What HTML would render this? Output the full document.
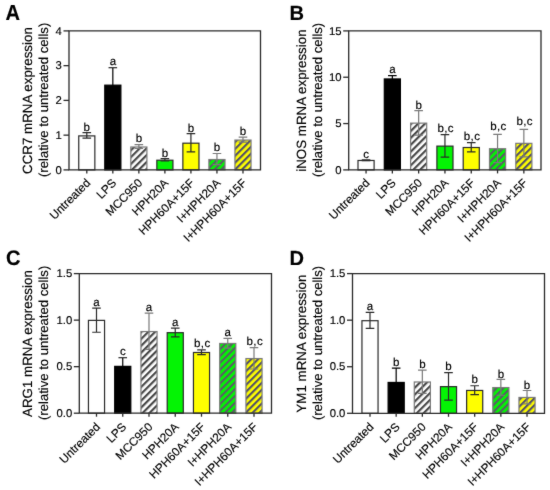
<!DOCTYPE html><html><head><meta charset="utf-8"><style>html,body{margin:0;padding:0;background:#fff;}svg{display:block;}</style></head><body>
<svg width="550" height="490" viewBox="0 0 550 490" font-family="'Liberation Sans', Arial, sans-serif">
<style>text{stroke:#000;stroke-width:0.15;text-rendering:geometricPrecision;}</style>
<defs>
<filter id="soft" x="0" y="0" width="1" height="1" color-interpolation-filters="sRGB"><feConvolveMatrix order="3" kernelMatrix="0.02 0.08 0.02 0.08 1 0.08 0.02 0.08 0.02" edgeMode="duplicate"/></filter>
<pattern id="hw" patternUnits="userSpaceOnUse" width="20" height="4.85" patternTransform="rotate(-45) translate(0 -1.06)"><rect width="20" height="4.85" fill="#ffffff"/><rect y="0" width="20" height="2.2" fill="#474747"/></pattern>
<pattern id="hg" patternUnits="userSpaceOnUse" width="20" height="4.85" patternTransform="rotate(-45) translate(0 -1.06)"><rect width="20" height="4.85" fill="#04f404"/><rect y="0" width="20" height="2.05" fill="#5c5868"/></pattern>
<pattern id="hy" patternUnits="userSpaceOnUse" width="20" height="4.85" patternTransform="rotate(-45) translate(0 -1.06)"><rect width="20" height="4.85" fill="#ffff00"/><rect y="0" width="20" height="2.15" fill="#525068"/></pattern>
</defs>
<g filter="url(#soft)">
<rect width="550" height="490" fill="#fff"/>
<text transform="translate(5.6 19.6) scale(0.98 1.06)" font-size="20.5" font-weight="bold" fill="#000">A</text>
<rect x="78.75" y="135.89" width="16.1" height="34.01" fill="#ffffff" stroke="#2a2a2a" stroke-width="1.2"/>
<path d="M86.8 132.66V138.22M82.5 132.66H91.1M82.5 138.22H91.1" stroke="#2a2a2a" stroke-width="1.2" fill="none"/>
<text x="86.8" y="130.76" font-size="11.5" text-anchor="middle" fill="#000">b</text>
<rect x="104.78" y="85.16" width="16.1" height="84.74" fill="#000000" stroke="#000000" stroke-width="1.2"/>
<path d="M112.83 67.75V101.67M108.53 67.75H117.13M108.53 101.67H117.13" stroke="#000000" stroke-width="1.2" fill="none"/>
<text x="112.83" y="64.95" font-size="11.5" text-anchor="middle" fill="#000">a</text>
<rect x="130.81" y="147.01" width="16.1" height="22.89" fill="url(#hw)" stroke="#7a7a7a" stroke-width="1.2"/>
<path d="M138.86 144.65V148.48M134.56 144.65H143.16M134.56 148.48H143.16" stroke="#7a7a7a" stroke-width="1.2" fill="none"/>
<text x="138.86" y="142.35" font-size="11.5" text-anchor="middle" fill="#000">b</text>
<rect x="156.84" y="160.22" width="16.1" height="9.68" fill="#04f404" stroke="#2a2a2a" stroke-width="1.2"/>
<path d="M164.89 158.55V160.99M160.59 158.55H169.19M160.59 160.99H169.19" stroke="#2a2a2a" stroke-width="1.2" fill="none"/>
<text x="164.89" y="156.65" font-size="11.5" text-anchor="middle" fill="#000">b</text>
<rect x="182.87" y="143.19" width="16.1" height="26.71" fill="#ffff00" stroke="#2a2a2a" stroke-width="1.2"/>
<path d="M190.92 133.71V151.78M186.62 133.71H195.22M186.62 151.78H195.22" stroke="#2a2a2a" stroke-width="1.2" fill="none"/>
<text x="190.92" y="131.61" font-size="11.5" text-anchor="middle" fill="#000">b</text>
<rect x="208.9" y="159.52" width="16.1" height="10.38" fill="url(#hg)" stroke="#7a7a7a" stroke-width="1.2"/>
<path d="M216.95 153.51V164.63M212.65 153.51H221.25M212.65 164.63H221.25" stroke="#7a7a7a" stroke-width="1.2" fill="none"/>
<text x="216.95" y="151.41" font-size="11.5" text-anchor="middle" fill="#000">b</text>
<rect x="234.93" y="140.06" width="16.1" height="29.84" fill="url(#hy)" stroke="#7a7a7a" stroke-width="1.2"/>
<path d="M242.98 137.18V142.05M238.68 137.18H247.28M238.68 142.05H247.28" stroke="#7a7a7a" stroke-width="1.2" fill="none"/>
<text x="242.98" y="135.08" font-size="11.5" text-anchor="middle" fill="#000">b</text>
<path d="M69 30.9H260.5V169.9H69Z" fill="none" stroke="#2a2a2a" stroke-width="1.3"/>
<path d="M63.5 169.9H69" stroke="#2a2a2a" stroke-width="1.3"/>
<text x="61.9" y="173.6" font-size="11.3" text-anchor="end" fill="#000">0</text>
<path d="M63.5 135.15H69" stroke="#2a2a2a" stroke-width="1.3"/>
<text x="61.9" y="138.85" font-size="11.3" text-anchor="end" fill="#000">1</text>
<path d="M63.5 100.4H69" stroke="#2a2a2a" stroke-width="1.3"/>
<text x="61.9" y="104.1" font-size="11.3" text-anchor="end" fill="#000">2</text>
<path d="M63.5 65.65H69" stroke="#2a2a2a" stroke-width="1.3"/>
<text x="61.9" y="69.35" font-size="11.3" text-anchor="end" fill="#000">3</text>
<path d="M63.5 30.9H69" stroke="#2a2a2a" stroke-width="1.3"/>
<text x="61.9" y="34.6" font-size="11.3" text-anchor="end" fill="#000">4</text>
<path d="M86.8 169.9V173.4" stroke="#2a2a2a" stroke-width="1.3"/>
<text x="91.1" y="183.7" font-size="11.8" text-anchor="end" transform="rotate(-45 91.1 183.7)" fill="#000">Untreated</text>
<path d="M112.83 169.9V173.4" stroke="#2a2a2a" stroke-width="1.3"/>
<text x="117.13" y="183.7" font-size="11.8" text-anchor="end" transform="rotate(-45 117.13 183.7)" fill="#000">LPS</text>
<path d="M138.86 169.9V173.4" stroke="#2a2a2a" stroke-width="1.3"/>
<text x="143.16" y="183.7" font-size="11.8" text-anchor="end" transform="rotate(-45 143.16 183.7)" fill="#000">MCC950</text>
<path d="M164.89 169.9V173.4" stroke="#2a2a2a" stroke-width="1.3"/>
<text x="169.19" y="183.7" font-size="11.8" text-anchor="end" transform="rotate(-45 169.19 183.7)" fill="#000">HPH20A</text>
<path d="M190.92 169.9V173.4" stroke="#2a2a2a" stroke-width="1.3"/>
<text x="195.22" y="183.7" font-size="11.8" text-anchor="end" transform="rotate(-45 195.22 183.7)" fill="#000">HPH60A+15F</text>
<path d="M216.95 169.9V173.4" stroke="#2a2a2a" stroke-width="1.3"/>
<text x="221.25" y="183.7" font-size="11.8" text-anchor="end" transform="rotate(-45 221.25 183.7)" fill="#000">I+HPH20A</text>
<path d="M242.98 169.9V173.4" stroke="#2a2a2a" stroke-width="1.3"/>
<text x="247.28" y="183.7" font-size="11.8" text-anchor="end" transform="rotate(-45 247.28 183.7)" fill="#000">I+HPH60A+15F</text>
<text x="32.5" y="100.6" font-size="13.35" text-anchor="middle" transform="rotate(-90 32.5 100.6)" fill="#000">CCR7 mRNA expression</text>
<text x="48.4" y="99.9" font-size="13.1" text-anchor="middle" transform="rotate(-90 48.4 99.9)" fill="#000">(relative to untreated cells)</text>
<text transform="translate(289.5 19.8) scale(0.98 1.0)" font-size="20.5" font-weight="bold" fill="#000">B</text>
<rect x="358" y="160.48" width="16.1" height="9.42" fill="#ffffff" stroke="#2a2a2a" stroke-width="1.2"/>
<path d="M366.05 159.77V160.7M361.75 159.77H370.35M361.75 160.7H370.35" stroke="#2a2a2a" stroke-width="1.2" fill="none"/>
<text x="366.05" y="157.67" font-size="11.5" text-anchor="middle" fill="#000">c</text>
<rect x="384.3" y="78.94" width="16.1" height="90.96" fill="#000000" stroke="#000000" stroke-width="1.2"/>
<path d="M392.35 75.63V81.74M388.05 75.63H396.65M388.05 81.74H396.65" stroke="#000000" stroke-width="1.2" fill="none"/>
<text x="392.35" y="73.33" font-size="11.5" text-anchor="middle" fill="#000">a</text>
<rect x="410.6" y="123.14" width="16.1" height="46.76" fill="url(#hw)" stroke="#7a7a7a" stroke-width="1.2"/>
<path d="M418.65 110.66V135.12M414.35 110.66H422.95M414.35 135.12H422.95" stroke="#7a7a7a" stroke-width="1.2" fill="none"/>
<text x="418.65" y="109.36" font-size="11.5" text-anchor="middle" fill="#000">b</text>
<rect x="436.9" y="146.12" width="16.1" height="23.78" fill="#04f404" stroke="#2a2a2a" stroke-width="1.2"/>
<path d="M444.95 134.56V157.18M440.65 134.56H449.25M440.65 157.18H449.25" stroke="#2a2a2a" stroke-width="1.2" fill="none"/>
<text x="445.75" y="131.66" font-size="11.5" text-anchor="middle" letter-spacing="0.35" fill="#000">b,c</text>
<rect x="463.2" y="147.51" width="16.1" height="22.39" fill="#ffff00" stroke="#2a2a2a" stroke-width="1.2"/>
<path d="M471.25 142.63V151.89M466.95 142.63H475.55M466.95 151.89H475.55" stroke="#2a2a2a" stroke-width="1.2" fill="none"/>
<text x="472.05" y="140.03" font-size="11.5" text-anchor="middle" letter-spacing="0.35" fill="#000">b,c</text>
<rect x="489.5" y="148.71" width="16.1" height="21.19" fill="url(#hg)" stroke="#7a7a7a" stroke-width="1.2"/>
<path d="M497.55 134.29V162.64M493.25 134.29H501.85M493.25 162.64H501.85" stroke="#7a7a7a" stroke-width="1.2" fill="none"/>
<text x="498.35" y="129.69" font-size="11.5" text-anchor="middle" letter-spacing="0.35" fill="#000">b,c</text>
<rect x="515.8" y="143.34" width="16.1" height="26.56" fill="url(#hy)" stroke="#7a7a7a" stroke-width="1.2"/>
<path d="M523.85 129.28V156.9M519.55 129.28H528.15M519.55 156.9H528.15" stroke="#7a7a7a" stroke-width="1.2" fill="none"/>
<text x="524.65" y="125.38" font-size="11.5" text-anchor="middle" letter-spacing="0.35" fill="#000">b,c</text>
<path d="M348.7 30.9H541V169.9H348.7Z" fill="none" stroke="#2a2a2a" stroke-width="1.3"/>
<path d="M343.2 169.9H348.7" stroke="#2a2a2a" stroke-width="1.3"/>
<text x="341.6" y="173.6" font-size="11.3" text-anchor="end" fill="#000">0</text>
<path d="M343.2 123.57H348.7" stroke="#2a2a2a" stroke-width="1.3"/>
<text x="341.6" y="127.27" font-size="11.3" text-anchor="end" fill="#000">5</text>
<path d="M343.2 77.23H348.7" stroke="#2a2a2a" stroke-width="1.3"/>
<text x="341.6" y="80.93" font-size="11.3" text-anchor="end" fill="#000">10</text>
<path d="M343.2 30.9H348.7" stroke="#2a2a2a" stroke-width="1.3"/>
<text x="341.6" y="34.6" font-size="11.3" text-anchor="end" fill="#000">15</text>
<path d="M366.05 169.9V173.4" stroke="#2a2a2a" stroke-width="1.3"/>
<text x="370.35" y="183.7" font-size="11.8" text-anchor="end" transform="rotate(-45 370.35 183.7)" fill="#000">Untreated</text>
<path d="M392.35 169.9V173.4" stroke="#2a2a2a" stroke-width="1.3"/>
<text x="396.65" y="183.7" font-size="11.8" text-anchor="end" transform="rotate(-45 396.65 183.7)" fill="#000">LPS</text>
<path d="M418.65 169.9V173.4" stroke="#2a2a2a" stroke-width="1.3"/>
<text x="422.95" y="183.7" font-size="11.8" text-anchor="end" transform="rotate(-45 422.95 183.7)" fill="#000">MCC950</text>
<path d="M444.95 169.9V173.4" stroke="#2a2a2a" stroke-width="1.3"/>
<text x="449.25" y="183.7" font-size="11.8" text-anchor="end" transform="rotate(-45 449.25 183.7)" fill="#000">HPH20A</text>
<path d="M471.25 169.9V173.4" stroke="#2a2a2a" stroke-width="1.3"/>
<text x="475.55" y="183.7" font-size="11.8" text-anchor="end" transform="rotate(-45 475.55 183.7)" fill="#000">HPH60A+15F</text>
<path d="M497.55 169.9V173.4" stroke="#2a2a2a" stroke-width="1.3"/>
<text x="501.85" y="183.7" font-size="11.8" text-anchor="end" transform="rotate(-45 501.85 183.7)" fill="#000">I+HPH20A</text>
<path d="M523.85 169.9V173.4" stroke="#2a2a2a" stroke-width="1.3"/>
<text x="528.15" y="183.7" font-size="11.8" text-anchor="end" transform="rotate(-45 528.15 183.7)" fill="#000">I+HPH60A+15F</text>
<text x="306.3" y="100.6" font-size="13.35" text-anchor="middle" transform="rotate(-90 306.3 100.6)" fill="#000">iNOS mRNA expression</text>
<text x="322.5" y="99.9" font-size="13.1" text-anchor="middle" transform="rotate(-90 322.5 99.9)" fill="#000">(relative to untreated cells)</text>
<text transform="translate(6 265.2) scale(0.98 1.02)" font-size="20.5" font-weight="bold" fill="#000">C</text>
<rect x="88.45" y="320.38" width="16.1" height="92.82" fill="#ffffff" stroke="#2a2a2a" stroke-width="1.2"/>
<path d="M96.5 308.03V332.23M92.2 308.03H100.8M92.2 332.23H100.8" stroke="#2a2a2a" stroke-width="1.2" fill="none"/>
<text x="96.5" y="305.83" font-size="11.5" text-anchor="middle" fill="#000">a</text>
<rect x="114.7" y="366.36" width="16.1" height="46.84" fill="#000000" stroke="#000000" stroke-width="1.2"/>
<path d="M122.75 357.73V374.48M118.45 357.73H127.05M118.45 374.48H127.05" stroke="#000000" stroke-width="1.2" fill="none"/>
<text x="122.75" y="355.43" font-size="11.5" text-anchor="middle" fill="#000">c</text>
<rect x="140.95" y="331.55" width="16.1" height="81.65" fill="url(#hw)" stroke="#7a7a7a" stroke-width="1.2"/>
<path d="M149 313.15V349.45M144.7 313.15H153.3M144.7 349.45H153.3" stroke="#7a7a7a" stroke-width="1.2" fill="none"/>
<text x="149" y="310.55" font-size="11.5" text-anchor="middle" fill="#000">a</text>
<rect x="167.2" y="332.67" width="16.1" height="80.53" fill="#04f404" stroke="#2a2a2a" stroke-width="1.2"/>
<path d="M175.25 328.04V336.79M170.95 328.04H179.55M170.95 336.79H179.55" stroke="#2a2a2a" stroke-width="1.2" fill="none"/>
<text x="175.25" y="326.44" font-size="11.5" text-anchor="middle" fill="#000">a</text>
<rect x="193.45" y="352.49" width="16.1" height="60.71" fill="#ffff00" stroke="#2a2a2a" stroke-width="1.2"/>
<path d="M201.5 349.91V354.57M197.2 349.91H205.8M197.2 354.57H205.8" stroke="#2a2a2a" stroke-width="1.2" fill="none"/>
<text x="202.3" y="347.31" font-size="11.5" text-anchor="middle" letter-spacing="0.35" fill="#000">b,c</text>
<rect x="219.7" y="343.46" width="16.1" height="69.74" fill="url(#hg)" stroke="#7a7a7a" stroke-width="1.2"/>
<path d="M227.75 338.28V348.15M223.45 338.28H232.05M223.45 348.15H232.05" stroke="#7a7a7a" stroke-width="1.2" fill="none"/>
<text x="227.75" y="335.68" font-size="11.5" text-anchor="middle" fill="#000">a</text>
<rect x="245.95" y="358.54" width="16.1" height="54.66" fill="url(#hy)" stroke="#7a7a7a" stroke-width="1.2"/>
<path d="M254 347.59V368.99M249.7 347.59H258.3M249.7 368.99H258.3" stroke="#7a7a7a" stroke-width="1.2" fill="none"/>
<text x="254.8" y="344.99" font-size="11.5" text-anchor="middle" letter-spacing="0.35" fill="#000">b,c</text>
<path d="M79.3 273.6H271.5V413.2H79.3Z" fill="none" stroke="#2a2a2a" stroke-width="1.3"/>
<path d="M73.8 413.2H79.3" stroke="#2a2a2a" stroke-width="1.3"/>
<text x="72.2" y="416.9" font-size="11.3" text-anchor="end" fill="#000">0.0</text>
<path d="M73.8 366.67H79.3" stroke="#2a2a2a" stroke-width="1.3"/>
<text x="72.2" y="370.37" font-size="11.3" text-anchor="end" fill="#000">0.5</text>
<path d="M73.8 320.13H79.3" stroke="#2a2a2a" stroke-width="1.3"/>
<text x="72.2" y="323.83" font-size="11.3" text-anchor="end" fill="#000">1.0</text>
<path d="M73.8 273.6H79.3" stroke="#2a2a2a" stroke-width="1.3"/>
<text x="72.2" y="277.3" font-size="11.3" text-anchor="end" fill="#000">1.5</text>
<path d="M96.5 413.2V416.7" stroke="#2a2a2a" stroke-width="1.3"/>
<text x="100.8" y="427.6" font-size="11.8" text-anchor="end" transform="rotate(-45 100.8 427.6)" fill="#000">Untreated</text>
<path d="M122.75 413.2V416.7" stroke="#2a2a2a" stroke-width="1.3"/>
<text x="127.05" y="427.6" font-size="11.8" text-anchor="end" transform="rotate(-45 127.05 427.6)" fill="#000">LPS</text>
<path d="M149 413.2V416.7" stroke="#2a2a2a" stroke-width="1.3"/>
<text x="153.3" y="427.6" font-size="11.8" text-anchor="end" transform="rotate(-45 153.3 427.6)" fill="#000">MCC950</text>
<path d="M175.25 413.2V416.7" stroke="#2a2a2a" stroke-width="1.3"/>
<text x="179.55" y="427.6" font-size="11.8" text-anchor="end" transform="rotate(-45 179.55 427.6)" fill="#000">HPH20A</text>
<path d="M201.5 413.2V416.7" stroke="#2a2a2a" stroke-width="1.3"/>
<text x="205.8" y="427.6" font-size="11.8" text-anchor="end" transform="rotate(-45 205.8 427.6)" fill="#000">HPH60A+15F</text>
<path d="M227.75 413.2V416.7" stroke="#2a2a2a" stroke-width="1.3"/>
<text x="232.05" y="427.6" font-size="11.8" text-anchor="end" transform="rotate(-45 232.05 427.6)" fill="#000">I+HPH20A</text>
<path d="M254 413.2V416.7" stroke="#2a2a2a" stroke-width="1.3"/>
<text x="258.3" y="427.6" font-size="11.8" text-anchor="end" transform="rotate(-45 258.3 427.6)" fill="#000">I+HPH60A+15F</text>
<text x="32.5" y="343.6" font-size="13.35" text-anchor="middle" transform="rotate(-90 32.5 343.6)" fill="#000">ARG1 mRNA expression</text>
<text x="48.4" y="342.9" font-size="13.1" text-anchor="middle" transform="rotate(-90 48.4 342.9)" fill="#000">(relative to untreated cells)</text>
<text transform="translate(289.4 264.7) scale(0.98 1.0)" font-size="20.5" font-weight="bold" fill="#000">D</text>
<rect x="361.95" y="320.7" width="16.1" height="92.6" fill="#ffffff" stroke="#2a2a2a" stroke-width="1.2"/>
<path d="M370 312.44V328.46M365.7 312.44H374.3M365.7 328.46H374.3" stroke="#2a2a2a" stroke-width="1.2" fill="none"/>
<text x="370" y="309.54" font-size="11.5" text-anchor="middle" fill="#000">a</text>
<rect x="388.12" y="382.44" width="16.1" height="30.86" fill="#000000" stroke="#000000" stroke-width="1.2"/>
<path d="M396.17 368.22V396.16M391.87 368.22H400.47M391.87 396.16H400.47" stroke="#000000" stroke-width="1.2" fill="none"/>
<text x="396.17" y="366.02" font-size="11.5" text-anchor="middle" fill="#000">b</text>
<rect x="414.29" y="381.98" width="16.1" height="31.32" fill="url(#hw)" stroke="#7a7a7a" stroke-width="1.2"/>
<path d="M422.34 370.09V393.37M418.04 370.09H426.64M418.04 393.37H426.64" stroke="#7a7a7a" stroke-width="1.2" fill="none"/>
<text x="422.34" y="368.29" font-size="11.5" text-anchor="middle" fill="#000">b</text>
<rect x="440.46" y="386.63" width="16.1" height="26.67" fill="#04f404" stroke="#2a2a2a" stroke-width="1.2"/>
<path d="M448.51 372.6V400.17M444.21 372.6H452.81M444.21 400.17H452.81" stroke="#2a2a2a" stroke-width="1.2" fill="none"/>
<text x="448.51" y="370.2" font-size="11.5" text-anchor="middle" fill="#000">b</text>
<rect x="466.63" y="390.45" width="16.1" height="22.85" fill="#ffff00" stroke="#2a2a2a" stroke-width="1.2"/>
<path d="M474.68 385.73V394.67M470.38 385.73H478.98M470.38 394.67H478.98" stroke="#2a2a2a" stroke-width="1.2" fill="none"/>
<text x="474.68" y="383.43" font-size="11.5" text-anchor="middle" fill="#000">b</text>
<rect x="492.8" y="387.57" width="16.1" height="25.73" fill="url(#hg)" stroke="#7a7a7a" stroke-width="1.2"/>
<path d="M500.85 379.4V395.23M496.55 379.4H505.15M496.55 395.23H505.15" stroke="#7a7a7a" stroke-width="1.2" fill="none"/>
<text x="500.85" y="377.6" font-size="11.5" text-anchor="middle" fill="#000">b</text>
<rect x="518.97" y="397.44" width="16.1" height="15.86" fill="url(#hy)" stroke="#7a7a7a" stroke-width="1.2"/>
<path d="M527.02 390.48V403.89M522.72 390.48H531.32M522.72 403.89H531.32" stroke="#7a7a7a" stroke-width="1.2" fill="none"/>
<text x="527.02" y="388.68" font-size="11.5" text-anchor="middle" fill="#000">b</text>
<path d="M352.5 273.6H544.5V413.3H352.5Z" fill="none" stroke="#2a2a2a" stroke-width="1.3"/>
<path d="M347 413.3H352.5" stroke="#2a2a2a" stroke-width="1.3"/>
<text x="345.4" y="417" font-size="11.3" text-anchor="end" fill="#000">0.0</text>
<path d="M347 366.73H352.5" stroke="#2a2a2a" stroke-width="1.3"/>
<text x="345.4" y="370.43" font-size="11.3" text-anchor="end" fill="#000">0.5</text>
<path d="M347 320.17H352.5" stroke="#2a2a2a" stroke-width="1.3"/>
<text x="345.4" y="323.87" font-size="11.3" text-anchor="end" fill="#000">1.0</text>
<path d="M347 273.6H352.5" stroke="#2a2a2a" stroke-width="1.3"/>
<text x="345.4" y="277.3" font-size="11.3" text-anchor="end" fill="#000">1.5</text>
<path d="M370 413.3V416.8" stroke="#2a2a2a" stroke-width="1.3"/>
<text x="374.3" y="427.7" font-size="11.8" text-anchor="end" transform="rotate(-45 374.3 427.7)" fill="#000">Untreated</text>
<path d="M396.17 413.3V416.8" stroke="#2a2a2a" stroke-width="1.3"/>
<text x="400.47" y="427.7" font-size="11.8" text-anchor="end" transform="rotate(-45 400.47 427.7)" fill="#000">LPS</text>
<path d="M422.34 413.3V416.8" stroke="#2a2a2a" stroke-width="1.3"/>
<text x="426.64" y="427.7" font-size="11.8" text-anchor="end" transform="rotate(-45 426.64 427.7)" fill="#000">MCC950</text>
<path d="M448.51 413.3V416.8" stroke="#2a2a2a" stroke-width="1.3"/>
<text x="452.81" y="427.7" font-size="11.8" text-anchor="end" transform="rotate(-45 452.81 427.7)" fill="#000">HPH20A</text>
<path d="M474.68 413.3V416.8" stroke="#2a2a2a" stroke-width="1.3"/>
<text x="478.98" y="427.7" font-size="11.8" text-anchor="end" transform="rotate(-45 478.98 427.7)" fill="#000">HPH60A+15F</text>
<path d="M500.85 413.3V416.8" stroke="#2a2a2a" stroke-width="1.3"/>
<text x="505.15" y="427.7" font-size="11.8" text-anchor="end" transform="rotate(-45 505.15 427.7)" fill="#000">I+HPH20A</text>
<path d="M527.02 413.3V416.8" stroke="#2a2a2a" stroke-width="1.3"/>
<text x="531.32" y="427.7" font-size="11.8" text-anchor="end" transform="rotate(-45 531.32 427.7)" fill="#000">I+HPH60A+15F</text>
<text x="306.1" y="343.65" font-size="13.35" text-anchor="middle" transform="rotate(-90 306.1 343.65)" fill="#000">YM1 mRNA expression</text>
<text x="322" y="342.95" font-size="13.1" text-anchor="middle" transform="rotate(-90 322 342.95)" fill="#000">(relative to untreated cells)</text>
</g></svg></body></html>
